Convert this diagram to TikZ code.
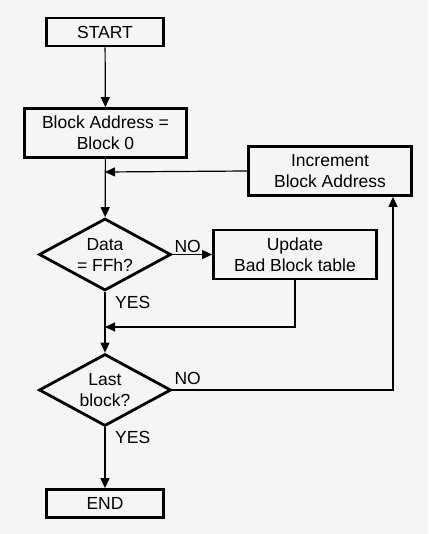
\documentclass[tikz,border=0pt]{standalone}
\usepackage{fontspec}
\setmainfont{Liberation Sans}
\usetikzlibrary{shapes.geometric, arrows.meta, positioning, calc}
\definecolor{bgcolor}{RGB}{245,245,245}
\newcommand{\flowfont}{\fontsize{17.5pt}{21pt}\selectfont}
\tikzset{
	block/.style={rectangle, draw, line width=2.8pt, align=center, inner sep=0pt, minimum width=163pt, minimum height=49pt},
	term/.style={block, minimum width=117pt, minimum height=28pt},
	decision/.style={diamond, aspect=1.85, draw, line width=2.8pt, align=center, inner sep=0pt, minimum width=132pt, minimum height=72pt},
	line/.style={draw, line width=1.2pt, -{Triangle[length=10pt, width=9pt]}},
	answer/.style={inner sep=2pt}
}

\begin{document}
\begin{tikzpicture}[x=1pt, y=-1pt, font=\flowfont]
	% Background and page size
	\fill[bgcolor] (0,0) rectangle (428,534);
	\useasboundingbox (0,0) rectangle (428,534);
	
	% Blocks of the flow chart
	\node[term] (start) at (105,32) {START};
	\node[block, minimum width=162pt] (init) at (105.5,133) {Block Address =\\Block 0};
	\node[block] (incr) at (330,171) {Increment\\Block Address};
	\node[decision] (data) at (105,254.5) {Data\\= FFh?};
	\node[block] (update) at (295,254.5) {Update\\Bad Block table};
	\node[decision] (last) at (105,390) {Last\\block?};
	\node[term] (end) at (105,503.5) {END};
	
	% Points where the loops come back
	\coordinate (join1) at (105,172);
	\coordinate (join2) at (105,327);
	\coordinate (back) at (393,390);
	
	% Main line
	\path[line] (start) -- (init);
	\path[line] (init) -- (data);
	\path[line] (data) -- (last);
	\path[line] (last) -- (end);
	
	% Branches and loops
	\path[line] (incr.west) -- (join1);
	\path[line] (data.east) -- (update.west);
	\path[line] (update.south) |- (join2);
	\path[line] (last.east) -- (back) -- (back |- incr.south);
	
	% Answers
	\node[answer, anchor=south west] at (data.east) {NO};
	\node[answer, anchor=north west, xshift=8pt, yshift=-2pt] at (data.south) {YES};
	\node[answer, anchor=south west, yshift=3pt] at (last.east) {NO};
	\node[answer, anchor=north west, xshift=8pt, yshift=-2pt] at (last.south) {YES};
\end{tikzpicture}
\end{document}
